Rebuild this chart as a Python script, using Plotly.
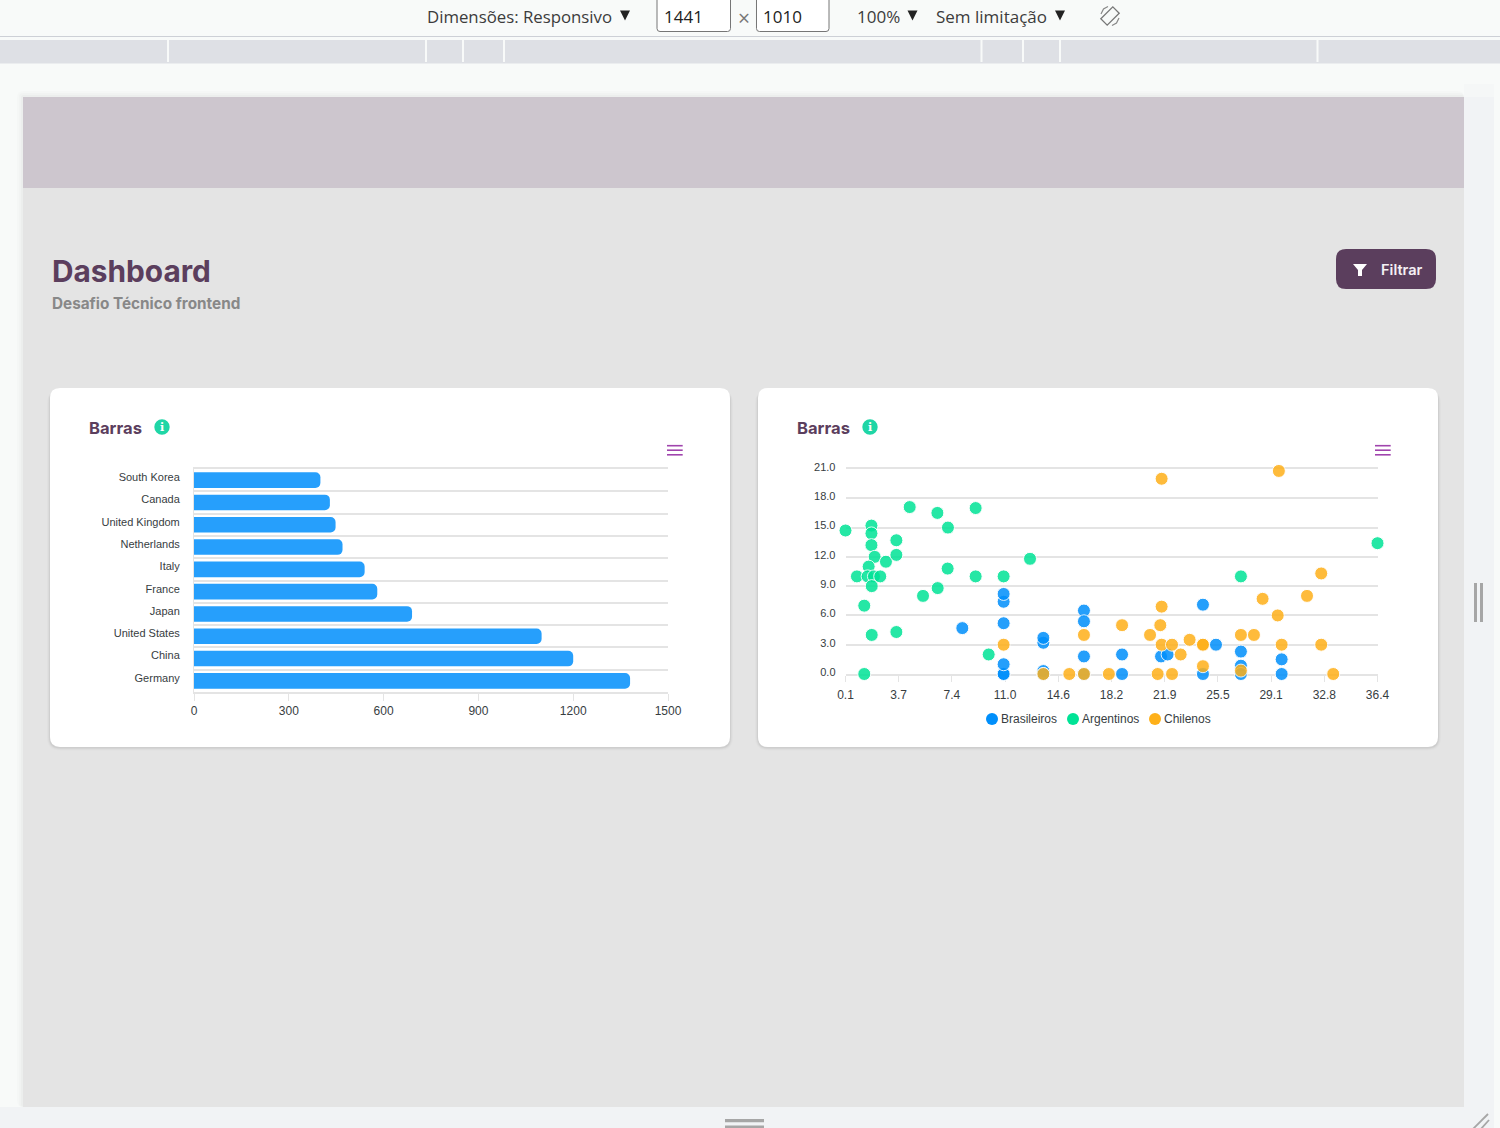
import plotly.graph_objects as go

# --- Data ---
COUNTRIES = ["South Korea", "Canada", "United Kingdom", "Netherlands", "Italy",
             "France", "Japan", "United States", "China", "Germany"]
BAR_VALUES = [400, 430, 448, 470, 540, 580, 690, 1100, 1200, 1380]
BAR_TICKS = [0, 300, 600, 900, 1200, 1500]

SCATTER_X_TICKS = [0.1, 3.73, 7.36, 10.99, 14.62, 18.25, 21.88, 25.51, 29.14, 32.77, 36.4]
SCATTER_X_LABELS = ["0.1", "3.7", "7.4", "11.0", "14.6", "18.2", "21.9", "25.5", "29.1", "32.8", "36.4"]
SCATTER_Y_TICKS = [0, 3, 6, 9, 12, 15, 18, 21]

BRASILEIROS_X = [10.89, 10.89, 10.89, 10.89, 10.89, 10.89, 8.07, 13.6, 13.6, 13.6, 13.6, 16.37, 16.37, 16.37, 16.37,
                 18.97, 18.97, 21.63, 22.08, 24.49, 24.49, 25.38, 27.08, 27.08, 27.08, 29.86, 29.86]
BRASILEIROS_Y = [0, 0, 1.0, 5.2, 7.4, 8.2, 4.7, 3.2, 3.7, 0.3, 0, 6.5, 5.4, 1.8, 0,
                 2.0, 0, 1.8, 2.0, 7.1, 0, 3.0, 2.3, 0.85, 0, 1.5, 0]

ARGENTINOS_X = [0.1, 1.87, 1.87, 1.87, 2.09, 2.86, 3.57, 3.57, 4.48, 6.37, 7.09, 8.98, 12.69,
                1.68, 7.07, 0.88, 1.61, 2.04, 2.47, 8.98, 10.89, 27.08, 1.89, 6.39, 5.39,
                1.38, 1.89, 3.57, 9.87, 1.38, 36.4]
ARGENTINOS_Y = [14.7, 15.2, 14.4, 13.2, 12.0, 11.5, 13.7, 12.2, 17.1, 16.5, 15.0, 17.0, 11.8,
                11.0, 10.8, 10.0, 10.0, 10.0, 10.0, 10.0, 10.0, 10.0, 9.0, 8.8, 8.0,
                7.0, 4.0, 4.3, 2.0, 0, 13.4]

CHILENOS_X = [21.67, 29.67, 32.56, 31.59, 28.56, 29.59, 21.67, 21.58, 18.97, 20.88, 27.08, 27.97,
              16.37, 10.89, 21.67, 22.38, 23.58, 22.97, 24.49, 24.49, 29.86, 32.56, 24.49, 27.08,
              13.6, 15.37, 16.37, 18.07, 21.4, 22.38, 33.38]
CHILENOS_Y = [20.0, 20.8, 10.3, 8.0, 7.7, 6.0, 6.9, 5.0, 5.0, 4.0, 4.0, 4.0,
              4.0, 3.0, 3.0, 3.0, 3.5, 2.0, 3.0, 3.0, 3.0, 3.0, 0.8, 0.35,
              0, 0, 0, 0, 0, 0, 0]

# --- Configuration ---
W, H = 1500, 1128
PURPLE = "#5B3E5D"
TICK_COLOR = "#373D3F"
GRID = "#E4E4E4"
CHART_FONT = "Liberation Sans"
TITLE_FONT = "Inter"
TOOLBAR_FONT = "Open Sans"

BLUE, GREEN, ORANGE = "#008FFB", "#00E396", "#FEB019"

shapes = []
annotations = []


def fx(x):
    return x / W


def fy(y):
    return 1 - y / H


def path_of(points, close=True):
    p = "M" + " L".join(f"{fx(x):.5f},{fy(y):.5f}" for x, y in points)
    return p + (" Z" if close else "")


def rrect_path(x0, y0, x1, y1, r):
    c = lambda x, y: f"{fx(x):.5f},{fy(y):.5f}"
    return (f"M{c(x0 + r, y0)} L{c(x1 - r, y0)} Q{c(x1, y0)} {c(x1, y0 + r)} "
            f"L{c(x1, y1 - r)} Q{c(x1, y1)} {c(x1 - r, y1)} "
            f"L{c(x0 + r, y1)} Q{c(x0, y1)} {c(x0, y1 - r)} "
            f"L{c(x0, y0 + r)} Q{c(x0, y0)} {c(x0 + r, y0)} Z")


def box(x0, y0, x1, y1, fill, r=0, line=None, line_width=0, opacity=1):
    shapes.append(dict(type="path", xref="paper", yref="paper", layer="below",
                       path=rrect_path(x0, y0, x1, y1, r), fillcolor=fill, opacity=opacity,
                       line=dict(color=line or fill, width=line_width)))


def stroke(points, color, width, close=False):
    shapes.append(dict(type="path", xref="paper", yref="paper", layer="below",
                       path=path_of(points, close), line=dict(color=color, width=width)))


def poly(points, fill):
    shapes.append(dict(type="path", xref="paper", yref="paper", layer="above",
                       path=path_of(points), fillcolor=fill, line=dict(width=0)))


def circle(cx, cy, r, fill):
    shapes.append(dict(type="circle", xref="paper", yref="paper", layer="above",
                       x0=fx(cx - r), x1=fx(cx + r), y0=fy(cy + r), y1=fy(cy - r),
                       fillcolor=fill, line=dict(width=0)))


def label(x, y, text, size, color, family=CHART_FONT, weight=400, anchor="left"):
    annotations.append(dict(xref="paper", yref="paper", x=fx(x), y=fy(y), text=text, showarrow=False,
                            xanchor=anchor, yanchor="middle", borderpad=0,
                            font=dict(family=family, size=size, color=color, weight=weight)))


# --- Browser chrome around the page ---
box(0, 0, W, 36, "#F8FAF9")
stroke([(0, 36.5), (W, 36.5)], "#CDD0D6", 1)
box(0, 40, W, 63.5, "#DEE0E5")
for dx in [168, 426, 463, 504, 981.5, 1023, 1060, 1317.5]:
    box(dx - 1, 40, dx + 1, 62, "#F8FAF9")
box(1464, 84, 1494, 97, "#F5F7F7")
box(1464, 97, 1494, 1128, "#F1F3F5")
box(0, 1107, 1494, 1128, "#F1F3F5")
box(657, -4, 730.5, 31.5, "#FFFFFF", r=3, line="#767676", line_width=1)
box(756.5, -4, 829, 31.5, "#FFFFFF", r=3, line="#767676", line_width=1)

label(426, 16.5, "Dimensões: Responsivo", 16.8, "#3C3C3C", TOOLBAR_FONT)
label(663, 16.5, "1441", 17, "#222222", TOOLBAR_FONT)
label(743.5, 18.5, "×", 21, "#777777", TOOLBAR_FONT, anchor="center")
label(762, 16.5, "1010", 17, "#222222", TOOLBAR_FONT)
label(856, 16.5, "100%", 17, "#3C3C3C", TOOLBAR_FONT)
label(935, 16.5, "Sem limitação", 17, "#3C3C3C", TOOLBAR_FONT)
for tx in [620, 907.5, 1055]:
    poly([(tx, 10.5), (tx + 10, 10.5), (tx + 5, 20.5)], "#222222")
# rotate icon
stroke([(1119.2, 13.2), (1112.8, 6.8), (1100.8, 18.8), (1107.2, 25.2)], "#777777", 1.3, close=True)
stroke([(1101, 14), (1103.5, 9), (1108, 6.5)], "#888888", 1.2)
stroke([(1119, 18), (1116.5, 23), (1112, 25.5)], "#888888", 1.2)
# resize handles
for hx in [1474, 1480]:
    box(hx, 583, hx + 3, 622, "#A6A6A6")
box(725, 1119, 764, 1122.3, "#A6A6A6")
box(725, 1125.5, 764, 1128, "#A6A6A6")
stroke([(1488, 1114), (1472, 1130)], "#A6A6A6", 1.8)
stroke([(1489, 1120), (1480, 1130)], "#A6A6A6", 1.8)

# --- Page ---
for grow, alpha in [(6, 0.012), (4, 0.016), (2, 0.02)]:
    box(23 - grow, 97 - grow, 1464, 1107, "#000000", r=grow, opacity=alpha)
box(23, 97, 1464, 1107, "#E4E4E4")
box(23, 97, 1464, 188, "#CDC6CE")

label(50.5, 271, "Dashboard", 29.8, PURPLE, TITLE_FONT, 700)
label(50.5, 304, "Desafio Técnico frontend", 15.3, "#888888", TITLE_FONT, 700)

box(1336, 249, 1436, 289, PURPLE, r=10)
poly([(1353, 264), (1367, 264), (1362, 270), (1362, 276), (1358, 276), (1358, 270)], "#FFFFFF")
label(1379.5, 270, "Filtrar", 14.6, "#F4F0F4", TITLE_FONT, 600)

# --- Cards ---
for cx0, cx1, title_x, icon_x, burger_x in [(50, 730, 88, 162, 667), (758, 1438, 796, 870, 1375)]:
    for grow, alpha in [(3, 0.015), (2, 0.025), (1, 0.05)]:
        box(cx0 - grow, 390, cx1 + grow, 747 + grow + 0.5, "#000000", r=10 + grow, opacity=alpha)
    box(cx0, 388, cx1, 747, "#FFFFFF", r=10)
    label(title_x, 428, "Barras", 16.6, PURPLE, TITLE_FONT, 700)
    circle(icon_x, 427, 7.7, "#1FD6A6")
    label(icon_x, 427.5, "i", 11, "#FFFFFF", "DejaVu Serif", 700, anchor="center")
    for by in [445.7, 450.2, 454.8]:
        stroke([(burger_x, by), (burger_x + 15.7, by)], "#A044AD", 1.6)

# --- Manual legend (ApexCharts spacing is tighter than Plotly's) ---
for mx, name, color in [(992, "Brasileiros", BLUE), (1073, "Argentinos", GREEN), (1155, "Chilenos", ORANGE)]:
    circle(mx, 719, 6, color)
    label(mx + 8, 719, name, 12, TICK_COLOR)

# --- Figure ---
fig = go.Figure()

fig.add_trace(go.Bar(
    x=BAR_VALUES, y=COUNTRIES, orientation="h", xaxis="x", yaxis="y",
    marker=dict(color="rgb(38,159,252)", line=dict(width=0)), width=0.7, showlegend=False,
))

for name, xs, ys, color in [("Brasileiros", BRASILEIROS_X, BRASILEIROS_Y, BLUE),
                            ("Argentinos", ARGENTINOS_X, ARGENTINOS_Y, GREEN),
                            ("Chilenos", CHILENOS_X, CHILENOS_Y, ORANGE)]:
    fig.add_trace(go.Scatter(
        x=xs, y=ys, mode="markers", name=name, xaxis="x2", yaxis="y2", cliponaxis=False, showlegend=False,
        marker=dict(color=color, size=13, opacity=0.85, line=dict(color="#FFFFFF", width=1)),
    ))

tick_font = dict(family=CHART_FONT, size=12, color=TICK_COLOR)
side_font = dict(family=CHART_FONT, size=11, color=TICK_COLOR)

fig.update_layout(
    template="none",
    width=W, height=H,
    margin=dict(l=0, r=0, t=0, b=0, pad=0, autoexpand=False),
    paper_bgcolor="#F8FAF9", plot_bgcolor="rgba(0,0,0,0)",
    barcornerradius=5,
    showlegend=False,
    shapes=shapes, annotations=annotations,
    xaxis=dict(domain=[fx(194), fx(668)], anchor="y", range=[0, 1500], tickvals=BAR_TICKS,
               ticks="outside", ticklen=7, tickcolor=GRID, tickwidth=1, showgrid=False, zeroline=False,
               showline=True, mirror=True, linecolor=GRID, linewidth=2, tickfont=tick_font, automargin=False),
    yaxis=dict(domain=[fy(692), fy(469)], anchor="x", type="category", range=[9.5, -0.5],
               tickson="boundaries", ticks="", showgrid=True, gridcolor=GRID, gridwidth=1.5, zeroline=False,
               showline=True, linecolor=GRID, linewidth=1, tickfont=side_font, automargin=False,
               ticklabelstandoff=11, ticklabelshift=3),
    xaxis2=dict(domain=[fx(845.5), fx(1377.5)], anchor="y2", range=[0.1, 36.4], tickvals=SCATTER_X_TICKS,
                ticktext=SCATTER_X_LABELS, ticks="outside", ticklen=6, tickcolor=GRID, tickwidth=1,
                showgrid=False, zeroline=False, showline=True, mirror=True, linecolor=GRID, linewidth=2,
                tickfont=tick_font, automargin=False, layer="below traces", ticklabelstandoff=3),
    yaxis2=dict(domain=[fy(674), fy(469)], anchor="x2", range=[0, 21], tickvals=SCATTER_Y_TICKS, tickformat=".1f",
                showgrid=True, gridcolor=GRID, gridwidth=1.5, zeroline=False, showline=False, ticks="",
                tickfont=side_font, ticklabelstandoff=9, ticklabelshift=-2, automargin=False),
)

# drop the default body margin so the figure fills the whole window
pin_script = """
document.documentElement.style.margin = '0';
document.body.style.margin = '0';
document.body.style.background = '#F8FAF9';
var gd = document.getElementById('{plot_id}');
gd.style.position = 'fixed';
gd.style.left = '0';
gd.style.top = '0';
"""

fig.write_html("out.html", config={"displayModeBar": False}, post_script=pin_script)
